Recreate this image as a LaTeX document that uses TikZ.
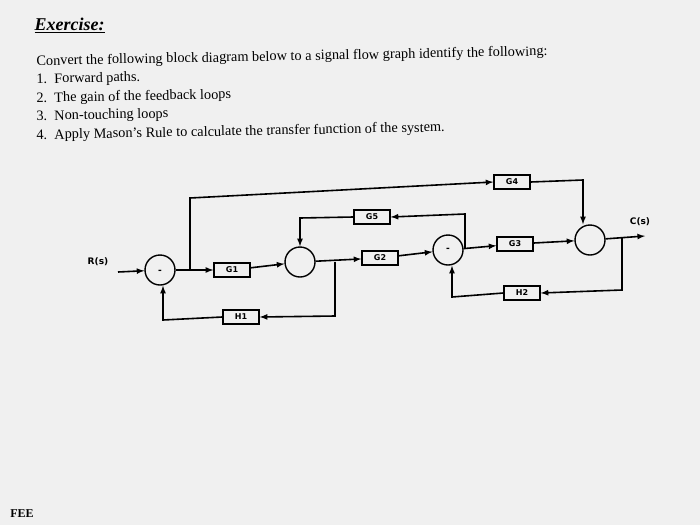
\documentclass[tikz,border=0pt]{standalone}
\usepackage{fontspec}
\setmainfont{Liberation Serif}
\newfontfamily\lsans{DejaVu Sans}
\begin{document}
\begin{tikzpicture}[x=1pt,y=-1pt,
  blk/.style={draw,line width=1.4pt,minimum width=36pt,minimum height=14pt,inner sep=0pt,font=\lsans\bfseries\fontsize{8}{9}\selectfont},
  sum/.style={draw,line width=1.4pt,circle,minimum size=30pt,inner sep=0pt,font=\lsans\bfseries\fontsize{9}{9}\selectfont},
  wire/.style={line width=1.6pt,-latex},
  txt/.style={anchor=west,rotate=1.1,font=\fontsize{14.3}{15}\selectfont}]
\useasboundingbox (0,0) rectangle (700,525);
\fill[black!6] (0,0) rectangle (700,525);
\node[anchor=west,font=\fontsize{18}{19}\selectfont\bfseries\itshape] (ex) at (31,25) {\underline{Exercise:}};
\node[txt] (t0) at (33,62) {Convert the following block diagram below to a signal flow graph identify the following:};
\node[txt] (t1) at (33,80) {1.\ \ Forward paths.};
\node[txt] (t2) at (33,99) {2.\ \ The gain of the feedback loops};
\node[txt] (t3) at (33,117) {3.\ \ Non-touching loops};
\node[txt] (t4) at (33,136) {4.\ \ Apply Mason's Rule to calculate the transfer function of the system.};
\node[font=\fontsize{12}{13}\selectfont\bfseries] (fee) at (22,514) {FEE};
% diagram
\node[sum] (s1) at (160,270) {\raisebox{-6pt}{-}};
\node[sum] (s2) at (300,262) {};
\node[sum] (s3) at (448,250) {-};
\node[sum] (s4) at (590,240) {};
\node[blk] (g1) at (232,270) {G1};
\node[blk] (g2) at (380,258) {G2};
\node[blk] (g3) at (515,244) {G3};
\node[blk] (g4) at (512,182) {G4};
\node[blk] (g5) at (372,217) {G5};
\node[blk] (h1) at (241,317) {H1};
\node[blk] (h2) at (522,293) {H2};
\node[font=\lsans\bfseries\fontsize{9}{10}\selectfont] (rs) at (98,262) {R(s)};
\node[font=\lsans\bfseries\fontsize{9}{10}\selectfont] (cs) at (640,222) {C(s)};
\coordinate (in) at (118,272);
\coordinate (out) at (645,236);
\coordinate (b1) at (190,270);
\coordinate (b2) at (335,262);
\coordinate (b3) at (465,248);
\coordinate (b4) at (622,238);
\draw[wire] (in) -- (s1);
\draw[wire] (s1) -- (g1);
\draw[wire] (g1) -- (s2);
\draw[wire] (s2) -- (g2);
\draw[wire] (g2) -- (s3);
\draw[wire] (s3) -- (g3);
\draw[wire] (g3) -- (s4);
\draw[wire] (s4) -- (out);
\draw[wire] (b1) -- (190,198) -- (g4.west);
\draw[wire] (g4.east) -- (583,180) -- (s4.north -| 583,0);
\draw[wire] (b3) -- (465,214) -- (g5.east);
\draw[wire] (g5.west) -- (300,218) -- (s2.north);
\draw[wire] (b2) -- (335,316) -- (h1.east);
\draw[wire] (h1.west) -- (163,320) -- (s1.south -| 163,0);
\draw[wire] (b4) -- (622,290) -- (h2.east);
\draw[wire] (h2.west) -- (452,297) -- (s3.south -| 452,0);
\end{tikzpicture}
\end{document}
